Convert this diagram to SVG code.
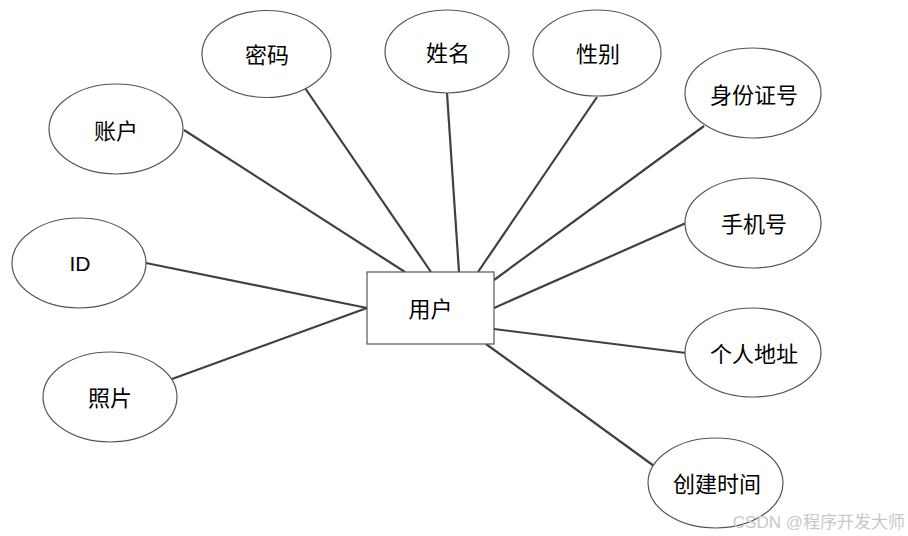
<svg xmlns="http://www.w3.org/2000/svg" width="908" height="536" viewBox="0 0 908 536">
<style>
.attr ellipse{fill:#fff;stroke:#555;stroke-width:1.2}
.ent rect{fill:#fff;stroke:#555;stroke-width:1.2}
text{font-family:"Noto Sans CJK SC","Liberation Sans",sans-serif;font-size:22px;fill:#000;text-anchor:middle;dominant-baseline:central}
.lat{font-family:"Liberation Sans",Arial,sans-serif;font-size:21px}
#conn line{stroke:#404040;stroke-width:2.2}
.wm{font-family:"Liberation Sans","Noto Sans CJK SC",sans-serif;font-size:17px;fill:#c8c8c8;text-anchor:end}
</style>
<rect width="908" height="536" fill="#fff"/>
<g id="conn">
<line x1="184" y1="130" x2="405" y2="272"/>
<line x1="305" y1="88" x2="431" y2="272"/>
<line x1="447" y1="93" x2="459" y2="272"/>
<line x1="597" y1="97" x2="478" y2="272"/>
<line x1="704" y1="126" x2="494" y2="280"/>
<line x1="686" y1="223" x2="494" y2="308"/>
<line x1="494" y1="329" x2="686" y2="353"/>
<line x1="486" y1="344" x2="654" y2="466"/>
<line x1="146" y1="263" x2="367" y2="308"/>
<line x1="172" y1="379" x2="367" y2="308"/>
</g>
<g id="user" class="ent"><rect x="367" y="272" width="127" height="72"/><text x="430.5" y="306.5">用户</text></g>
<g id="mima" class="attr"><ellipse cx="266.5" cy="54" rx="64.5" ry="43.5"/><text x="267" y="52.5">密码</text></g>
<g id="zhanghu" class="attr"><ellipse cx="116" cy="129" rx="67" ry="45"/><text x="116" y="128.5">账户</text></g>
<g id="id" class="attr"><ellipse cx="79" cy="263" rx="67" ry="45"/><text class="lat" x="80" y="263.5">ID</text></g>
<g id="zhaopian" class="attr"><ellipse cx="110" cy="397" rx="67" ry="45"/><text x="110" y="395.5">照片</text></g>
<g id="xingming" class="attr"><ellipse cx="447" cy="51.5" rx="62" ry="41.5"/><text x="448" y="50.5">姓名</text></g>
<g id="xingbie" class="attr"><ellipse cx="597" cy="53" rx="64" ry="43"/><text x="598" y="51.5">性别</text></g>
<g id="shenfenzheng" class="attr"><ellipse cx="753" cy="93" rx="68" ry="45"/><text x="754" y="92.5">身份证号</text></g>
<g id="shouji" class="attr"><ellipse cx="753" cy="223" rx="68" ry="45"/><text x="754" y="221.5">手机号</text></g>
<g id="dizhi" class="attr"><ellipse cx="753" cy="352.5" rx="68" ry="44.5"/><text x="754" y="351.5">个人地址</text></g>
<g id="chuangjian" class="attr"><ellipse cx="715.5" cy="483" rx="67.5" ry="45"/><text x="717" y="481.5">创建时间</text></g>
<text class="wm" x="905" y="522">CSDN @程序开发大师</text>
</svg>
